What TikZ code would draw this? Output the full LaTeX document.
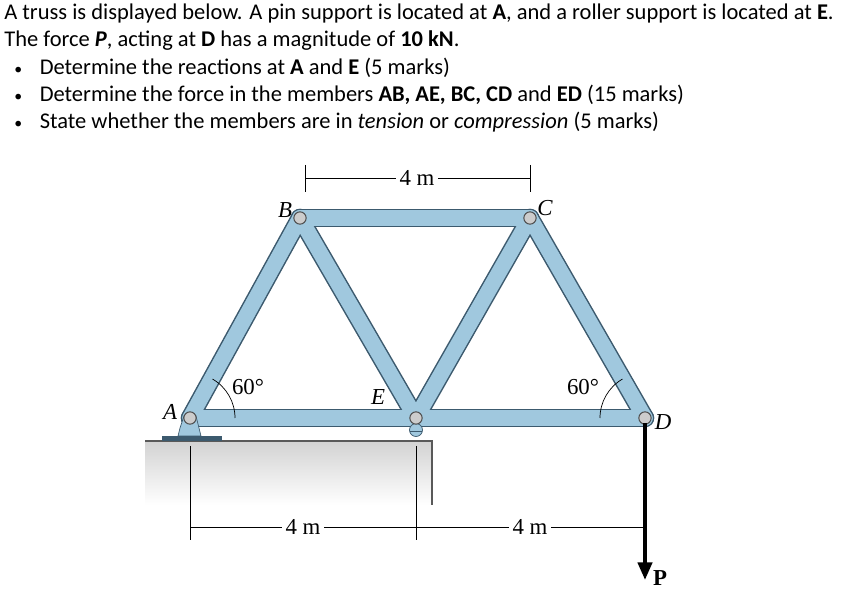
\documentclass[tikz,border=0pt]{standalone}
\usepackage{fontspec}
\setmainfont{Carlito}
\newfontfamily\figfont{Liberation Serif}
\usetikzlibrary{arrows.meta,calc}
\definecolor{bar_blue}{RGB}{160, 200, 222}
\definecolor{bar_edge}{RGB}{60, 90, 110}
\tikzstyle{bar_out}=[line width=10.5pt,draw=bar_edge,line cap=round]
\tikzstyle{bar_in}=[line width=8.8pt,draw=bar_blue,line cap=round]
\tikzstyle{pin}=[circle,draw=black!70,fill=gray!40,line width=0.6pt,inner sep=0pt,minimum size=7pt]
\tikzstyle{lbl}=[font=\figfont\itshape\fontsize{13}{13}\selectfont,inner sep=1pt]
\tikzstyle{dim}=[font=\figfont\fontsize{13}{13}\selectfont,fill=white,inner sep=2pt]
\tikzstyle{txt}=[anchor=north west,inner sep=0pt,font=\fontsize{12.8}{15}\selectfont]
\tikzstyle{none}=[]
\begin{document}
\begin{tikzpicture}[x=0.02cm,y=-0.02cm]
		\useasboundingbox (0,0) rectangle (850,598);
		% problem text
		\node [txt] (t1) at (4,4) {A truss is displayed below. A pin support is located at \textbf{A}, and a roller support is located at \textbf{E}.};
		\node [txt] (t2) at (4,30) {The force \textbf{\textit{P}}, acting at \textbf{D} has a magnitude of \textbf{10 kN}.};
		\node [txt] (t3) at (14,58) {{\small\textbullet}\hspace{10pt}Determine the reactions at \textbf{A} and \textbf{E} (5 marks)};
		\node [txt] (t4) at (14,85) {{\small\textbullet}\hspace{10pt}Determine the force in the members \textbf{AB, AE, BC, CD} and \textbf{ED} (15 marks)};
		\node [txt] (t5) at (14,112) {{\small\textbullet}\hspace{10pt}State whether the members are in \textit{tension} or \textit{compression} (5 marks)};
		% ground
		\shade [top color=gray!35, bottom color=white] (145,441) rectangle (432,505);
		\draw [line width=0.8pt, gray!70!black] (145,441) -- (432,441) -- (432,505);
		% joints
		\coordinate (A) at (190,418);
		\coordinate (B) at (300,218);
		\coordinate (C) at (530,218);
		\coordinate (E) at (416,418);
		\coordinate (D) at (645,418);
		% members
		\foreach \u/\v in {A/B,B/C,C/D,A/E,E/D,B/E,E/C} {
			\draw [bar_out] (\u) -- (\v);
		}
		\foreach \u/\v in {A/B,B/C,C/D,A/E,E/D,B/E,E/C} {
			\draw [bar_in] (\u) -- (\v);
		}
		% supports
		\fill [bar_blue, draw=bar_edge] (180,428) -- (184,416) -- (196,416) -- (201,436) -- (178,436) -- cycle;
		\fill [bar_edge] (162,436) rectangle (222,441);
		\draw [fill=bar_blue, draw=bar_edge] (416,430) circle (6.5);
		\draw [bar_edge] (410,431) -- (422,431);
		\foreach \j in {A,B,C,E,D} {
			\node [pin] (p\j) at (\j) {};
		}
		% load
		\node [none] (P0) at (645,423) {};
		\node [none] (P1) at (645,580) {};
		\draw [line width=2.2pt, -{Triangle[length=10pt,width=8pt]}] (P0.center) to (P1.center);
		% labels
		\node [lbl] (lA) at (170,412) {A};
		\node [lbl] (lB) at (285,210) {B};
		\node [lbl] (lC) at (545,208) {C};
		\node [lbl] (lE) at (378,397) {E};
		\node [lbl] (lD) at (663,422) {D};
		\node [lbl, font=\figfont\bfseries\fontsize{13}{13}\selectfont] (lP) at (660,578) {P};
		% angles
		\draw [thin] ($(A)+(-60:45)$) arc (-60:0:45);
		\node [dim, fill=none] (a1) at (248,387) {60°};
		\draw [thin] ($(D)+(-120:45)$) arc (-120:-180:45);
		\node [dim, fill=none] (a2) at (583,387) {60°};
		% dimensions
		\draw [thin] (305,165) -- (305,192);
		\draw [thin] (530,165) -- (530,192);
		\draw [thin] (305,178) -- (530,178);
		\node [dim] (d1) at (417,178) {4 m};
		\draw [thin] (190,446) -- (190,540);
		\draw [thin] (416,446) -- (416,540);
		\draw [thin] (645,440) -- (645,540);
		\draw [thin] (190,527) -- (645,527);
		\node [dim] (d2) at (303,527) {4 m};
		\node [dim] (d3) at (530,527) {4 m};
\end{tikzpicture}
\end{document}
